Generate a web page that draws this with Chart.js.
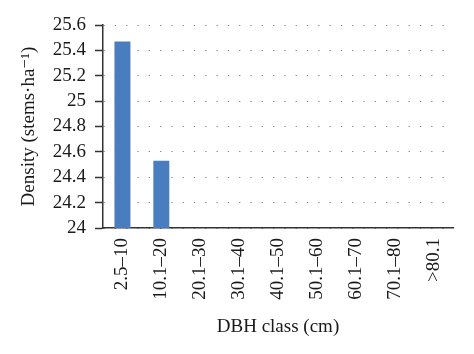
<!DOCTYPE html>
<html>
<head>
<meta charset="utf-8">
<script src="https://cdn.jsdelivr.net/npm/chart.js@4/dist/chart.umd.min.js"></script>
<style>
html,body{margin:0;padding:0;background:#fff;}
#wrap{width:474px;height:354px;position:relative;}
</style>
</head>
<body>
<div id="wrap"><canvas id="c" width="474" height="354"></canvas></div>
<script>
const categories = ['2.5–10','10.1–20','20.1–30','30.1–40','40.1–50','50.1–60','60.1–70','70.1–80','>80.1'];
const density = [25.47, 24.53, 0, 0, 0, 0, 0, 0, 0];
const yTicks = [24, 24.2, 24.4, 24.6, 24.8, 25, 25.2, 25.4, 25.6];

const serif = '"Liberation Serif", "DejaVu Serif", serif';
new Chart(document.getElementById('c'), {
  type: 'bar',
  data: {
    labels: categories,
    datasets: [{
      data: density,
      backgroundColor: '#4a7cc0',
      borderWidth: 0,
      barPercentage: 0.41,
      categoryPercentage: 1.0
    }]
  },
  options: {
    responsive: false,
    animation: false,
    layout: { padding: { left: 8, right: 21, top: 25, bottom: 8 } },
    plugins: { legend: { display: false }, tooltip: { enabled: false } },
    scales: {
      x: {
        grid: { display: false, drawTicks: false },
        border: { display: true, color: '#333', width: 1.5 },
        ticks: {
          font: { family: serif, size: 19 },
          color: '#1a1a1a',
          maxRotation: 90, minRotation: 90,
          padding: 10,
          autoSkip: false
        },
        title: {
          display: true,
          text: 'DBH class (cm)',
          font: { family: serif, size: 19 },
          color: '#1a1a1a',
          padding: { top: 10, bottom: 8 }
        },
        afterFit: (s) => { s.height = 354 - 228 - 8; }
      },
      y: {
        min: 24, max: 25.6,
        afterBuildTicks: (s) => { s.ticks = yTicks.map(v => ({ value: v })); },
        grid: {
          color: '#888',
          lineWidth: 1,
          tickColor: '#333',
          tickLength: 8,
          tickWidth: 1.5,
          tickBorderDash: []
        },
        border: { display: true, color: '#333', width: 1.5, dash: [1.3, 10] },
        ticks: {
          font: { family: serif, size: 19, lineHeight: 1 },
          color: '#1a1a1a',
          padding: 9,
          autoSkip: false,
          callback: (v) => String(Number(Number(v).toFixed(1)))
        },
        title: {
          display: true,
          text: 'Density (stems·ha⁻¹)',
          font: { family: serif, size: 19 },
          color: '#1a1a1a',
          padding: { top: 10, bottom: 4 }
        },
        afterFit: (s) => { s.width = 103 - 8; }
      }
    }
  }
});
</script>
</body>
</html>
